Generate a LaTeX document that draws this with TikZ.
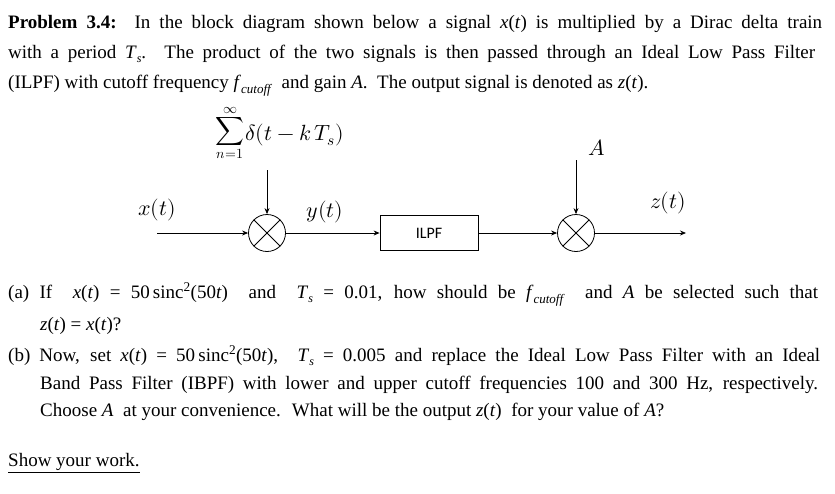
\documentclass[tikz,border=0pt]{standalone}
\usepackage{unicode-math}
\setmainfont{Liberation Serif}
\newfontfamily\sfont{Carlito}
\usetikzlibrary{arrows.meta}
\newcommand{\vi}[1]{\textit{#1}}
\begin{document}
\begin{tikzpicture}[x=1pt,y=-1pt,
  txt/.style={anchor=base west,inner sep=0pt,font=\fontsize{19}{24}\selectfont},
  lbl/.style={inner sep=0pt,font=\fontsize{22}{26}\selectfont},
  mult/.style={circle,draw,thick,minimum size=37pt,inner sep=0pt},
  sig/.style={thick,-{Stealth[length=6pt,width=5pt]}}]
\useasboundingbox (0,0) rectangle (835,493);
\node[txt] (l1) at (8,28) {\hbox to 814pt{\textbf{Problem 3.4:}\ \ In the block diagram shown below a signal \vi{x}(\vi{t}) is multiplied by a Dirac delta train}};
\node[txt] (l2) at (8,58) {\hbox to 807pt{with a period \vi{T}\raisebox{-4pt}{\fontsize{12}{12}\selectfont\vi{s}}. The product of the two signals is then passed through an Ideal Low Pass Filter}};
\node[txt] (l3) at (8,88) {(ILPF) with cutoff frequency \vi{f}\raisebox{-5pt}{\fontsize{13}{13}\selectfont\vi{cutoff}} \ and gain \vi{A}. \ The output signal is denoted as \vi{z}(\vi{t}).};
\node[txt] (la) at (8,298) {\hbox to 810pt{(a) If \ \vi{x}(\vi{t}) = 50\,sinc\textsuperscript{2}(50\vi{t}) \ and \ \vi{T}\raisebox{-4pt}{\fontsize{12}{12}\selectfont\vi{s}} = 0.01, how should be \vi{f}\raisebox{-5pt}{\fontsize{13}{13}\selectfont\vi{cutoff}} \ and \vi{A} be selected such that}};
\node[txt] (la2) at (40,330) {\vi{z}(\vi{t}) = \vi{x}(\vi{t})?};
\node[txt] (lb) at (8,361) {\hbox to 812pt{(b) Now, set \vi{x}(\vi{t}) = 50\,sinc\textsuperscript{2}(50\vi{t}), \ \vi{T}\raisebox{-4pt}{\fontsize{12}{12}\selectfont\vi{s}} = 0.005 and replace the Ideal Low Pass Filter with an Ideal}};
\node[txt] (lb2) at (40,389) {\hbox to 778pt{Band Pass Filter (IBPF) with lower and upper cutoff frequencies 100 and 300 Hz, respectively.}};
\node[txt] (lb3) at (40,416) {Choose \vi{A} \ at your convenience. \ What will be the output \vi{z}(\vi{t}) \ for your value of \vi{A}?};
\node[txt] (sw) at (8,466) {\underline{Show your work.}};
% diagram
\coordinate (in) at (157,233);
\node[mult] (m1) at (267,233) {};
\draw[thick] (m1.north west) -- (m1.south east) (m1.north east) -- (m1.south west);
\node[draw,thick,minimum width=98pt,minimum height=35pt,font=\sfont\fontsize{16}{20}\selectfont] (f) at (429,233) {ILPF};
\node[mult] (m2) at (576,233) {};
\draw[thick] (m2.north west) -- (m2.south east) (m2.north east) -- (m2.south west);
\coordinate (out) at (686,233);
\coordinate (s1) at (267,170);
\coordinate (a1) at (576,160);
\draw[sig] (in) -- (m1);
\draw[sig] (m1) -- (f);
\draw[sig] (f) -- (m2);
\draw[sig] (m2) -- (out);
\draw[sig] (s1) -- (m1);
\draw[sig] (a1) -- (m2);
\node[lbl] (xl) at (157,210) {$x(t)$};
\node[lbl] (yl) at (325,212) {$y(t)$};
\node[lbl] (zl) at (668,203) {$z(t)$};
\node[lbl] (Al) at (597,148) {$A$};
\node[lbl,font=\fontsize{20}{24}\selectfont] (sum) at (230,133) {$\displaystyle\sum_{n=1}^{\infty}$};
\node[lbl,anchor=west] (del) at (245,135) {$\delta(t-k\,T_s)$};
\end{tikzpicture}
\end{document}
